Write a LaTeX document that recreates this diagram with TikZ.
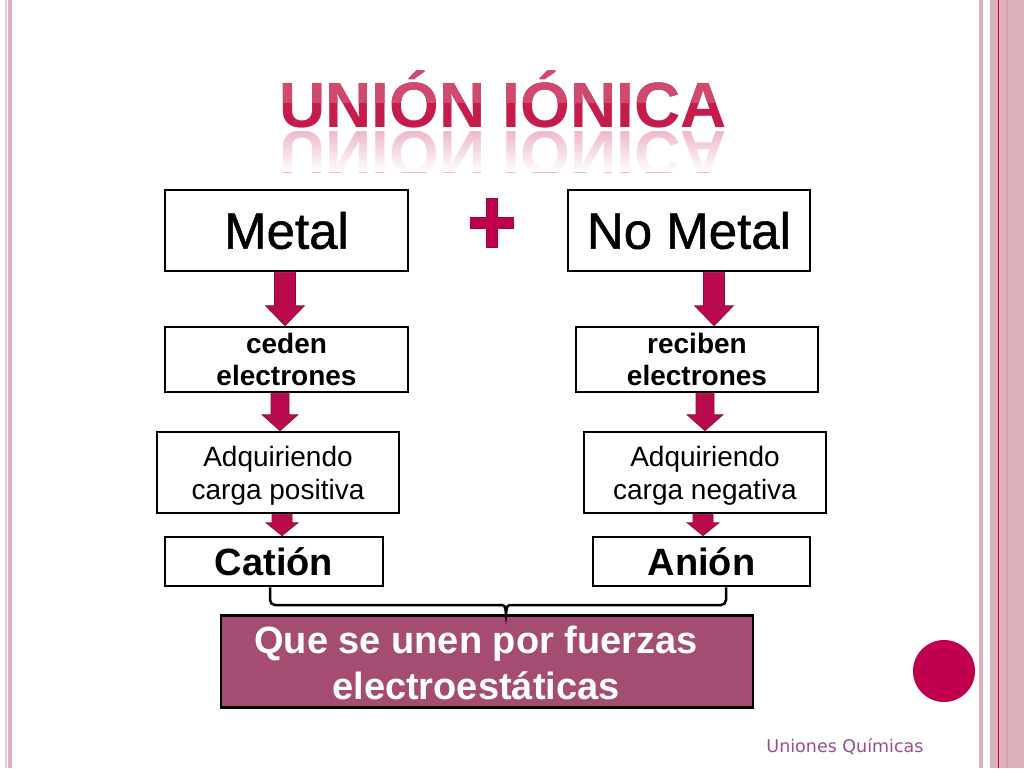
\documentclass[tikz,border=0pt]{standalone}
\usepackage{fontspec}
\setmainfont{Liberation Sans}
\newfontfamily\footfont{DejaVu Sans}
\usetikzlibrary{calc,fadings}
\definecolor{pinkband}{HTML}{DDB1BA}
\definecolor{pinklight}{HTML}{EBCDD3}
\definecolor{pinkdark}{HTML}{D4A1AC}
\definecolor{crim}{HTML}{C0004E}
\definecolor{titlec}{HTML}{C51C4C}
\definecolor{titletop}{HTML}{CF4A6C}
\definecolor{arrowc}{HTML}{B80A4C}
\definecolor{arrowd}{HTML}{900A3C}
\definecolor{quec}{HTML}{A54C72}
\definecolor{footc}{HTML}{9B4C8E}
\tikzfading[name=reflfade, top color=transparent!100, bottom color=transparent!0]
% shift the printed lines inside a fixed box: #1 down, #2 left
\newcommand{\lowtext}[3]{\raisebox{-#1}[\height][\depth]{\begin{tabular}{@{}c@{}}#3\end{tabular}\hspace*{#2}}}
% #1 x, #2 upper node, #3 lower node, #4 shaft half width, #5 head half width, #6 head length
\newcommand{\blockarr}[6]{%
  \path (#1,0 |- #2.south) coordinate (aT) (#1,0 |- #3.north) coordinate (aB);
  \filldraw[blockarrow] ([xshift=-#4pt]aT) -- ([xshift=#4pt]aT)
    -- ([xshift=#4pt,yshift=#6pt]aB) -- ([xshift=#5pt,yshift=#6pt]aB)
    -- (aB) -- ([xshift=-#5pt,yshift=#6pt]aB)
    -- ([xshift=-#4pt,yshift=#6pt]aB) -- cycle;}
\begin{document}
\begin{tikzpicture}[x=1pt,y=-1pt,
  box/.style={draw=black, line width=2.5pt, fill=white, inner sep=0pt, align=center},
  blockarrow/.style={fill=arrowc, draw=arrowd, line width=0.6pt},
  titlefont/.style={font=\fontsize{64}{70}\selectfont\bfseries, anchor=base},
  big/.style={font=\fontsize{51}{56}\selectfont\addfontfeature{FakeBold=1}},
  mid/.style={font=\fontsize{28}{32}\selectfont\bfseries},
  reg/.style={font=\fontsize{28}{33}\selectfont},
  ion/.style={font=\fontsize{38}{42}\selectfont\bfseries}]
\useasboundingbox (0,0) rectangle (1024,768);
\fill[white] (0,0) rectangle (1024,768);
% side bands
\fill[pinklight] (5,0) rectangle (7,768);
\fill[pinkband] (8,0) rectangle (12,768);
\fill[pinkband] (979,0) rectangle (983,768);
\fill[pinkband] (990,0) rectangle (1024,768);
\fill[pinkdark] (1006,0) rectangle (1008,768);
\draw[crim, line width=1pt] (998.5,0) -- (998.5,768);
% title (glossy: lighter upper half) and reflection
\node[titlefont, text=titlec] (title) at (503,127) {UNIÓN IÓNICA};
\begin{scope}
  \clip (260,40) rectangle (750,102);
  \node[titlefont, text=titletop] (titlegloss) at (503,127) {UNIÓN IÓNICA};
\end{scope}
\begin{scope}
  \clip (260,131) rectangle (750,172);
  \begin{scope}[shift={(503,131)}, yscale=-1]
    \node[titlefont, text=titlec, transform shape, opacity=0.3] (titlerefl) at (0,0) {UNIÓN IÓNICA};
  \end{scope}
  \fill[white, path fading=reflfade] (260,131) rectangle (750,172);
\end{scope}
% plus sign
\filldraw[fill=crim, draw=arrowd, line width=0.8pt]
  (486,198) -- (497,198) -- (497,217) -- (513,217) -- (513,228) -- (497,228)
  -- (497,247) -- (486,247) -- (486,228) -- (470,228) -- (470,217) -- (486,217) -- cycle;
% boxes
\node[box, big, minimum width=243, minimum height=81] (metal) at (286.5,230.5) {Metal};
\node[box, big, minimum width=242, minimum height=81] (nometal) at (689,230.5) {No Metal};
\node[box, mid, minimum width=243, minimum height=65] (ceden) at (286.5,359.5) {ceden\\electrones};
\node[box, mid, minimum width=242, minimum height=65] (reciben) at (697,359.5) {reciben\\electrones};
\node[box, reg, minimum width=242, minimum height=81] (adqp) at (278,472.5) {\lowtext{4pt}{0pt}{Adquiriendo\\carga positiva}};
\node[box, reg, minimum width=242, minimum height=81] (adqn) at (705,472.5) {\lowtext{4pt}{0pt}{Adquiriendo\\carga negativa}};
\node[box, ion, minimum width=218, minimum height=49] (cation) at (274,561.5) {Catión};
\node[box, ion, minimum width=217, minimum height=49] (anion) at (701.5,561.5) {Anión};
\node[box, fill=quec, text=white, font=\fontsize{38}{46}\selectfont\bfseries,
  minimum width=532, minimum height=89] (que) at (487,661.5)
  {\lowtext{6pt}{22pt}{Que se unen por fuerzas\\electroestáticas}};
% block arrows
\blockarr{285}{metal}{ceden}{10.5}{19.5}{20}
\blockarr{714}{nometal}{reciben}{10.5}{19.5}{20}
\blockarr{280}{ceden}{adqp}{9}{18}{16}
\blockarr{705}{reciben}{adqn}{9}{18}{16}
\blockarr{282}{adqp}{cation}{10}{16}{13}
\blockarr{703}{adqn}{anion}{10}{16}{13}
% brace
\path (270,0 |- cation.south) coordinate (bl) (726,0 |- anion.south) coordinate (br)
  (506,0 |- que.north) coordinate (btip);
\draw[line width=2.5pt, rounded corners=5pt] (bl) -- (270,605) -- (499,605);
\draw[line width=2.5pt, rounded corners=5pt] (br) -- (726,605) -- (513,605);
\draw[line width=2.5pt] (499,605) .. controls (505,605) .. (btip) .. controls (507,605) .. (513,605);
% decoration circle
\fill[crim] (944,671) circle (31);
% footer
\node[text=footc, font=\footfont\fontsize{17.5}{20}\selectfont] (footer) at (845,747) {Uniones Químicas};
\end{tikzpicture}
\end{document}
